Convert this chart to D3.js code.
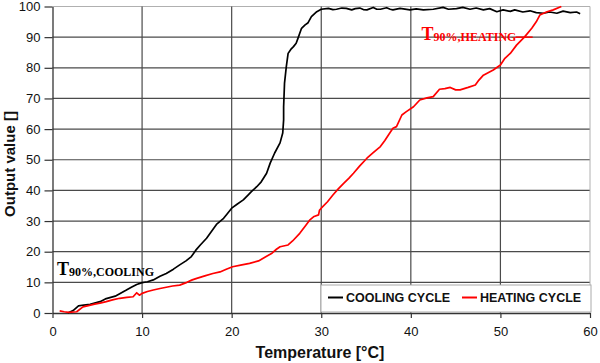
<!DOCTYPE html>
<html>
<head>
<meta charset="utf-8">
<script src="https://cdn.jsdelivr.net/npm/d3@7"></script>
<style>
  html, body { margin: 0; padding: 0; background: #fff; }
  svg { display: block; }
</style>
</head>
<body>
<svg id="chart" width="600" height="363"></svg>
<script>
// ---- data ----
const xTicks = [0, 10, 20, 30, 40, 50, 60];
const yTicks = [0, 10, 20, 30, 40, 50, 60, 70, 80, 90, 100];

const coolingT = [1.7,2.3,2.9,3.5,4.2,4.8,5.3,5.9,6.4,7,7.5,8.2,8.8,9.4,10,10.6,11.25,12,12.7,13.5,14.2,14.9,15.5,16,16.5,17.2,17.6,18.3,19.1,19.4,20,20.6,21.3,21.8,22.2,22.8,23.3,23.9,24.3,24.8,25.4,25.7,25.8,25.8,25.9,26.1,26.3,26.6,26.9,27.2,27.4,27.6,27.8,28.2,28.5,28.9,29.5,30,30.8,31.3,31.7,32.3,32.8,33.4,33.8,34.3,34.7,35.1,35.8,36.2,36.6,37.3,37.7,38,38.8,39.9,40.6,41.4,42.5,43.6,44.2,45.1,45.8,46.6,47.3,48.1,48.8,49.6,50.3,51.1,51.6,52.5,53.3,54,54.8,55.5,56.3,57,57.8,58.5,58.9];
const coolingV = [0,0.8,2.3,2.6,2.8,3.3,3.7,4.6,5,5.5,6.3,7.4,8.4,9.3,9.9,10.2,10.8,12,12.9,14.3,15.7,17,18.4,20.5,22.2,24.4,26,28.9,30.9,32,34.2,35.5,36.9,38.4,39.6,41.2,42.8,45.6,48.9,52.2,55.5,58.7,63,67.2,75,80.4,84.7,86,86.9,88,89.6,91.3,92.9,94,94.6,96.7,98.3,99.1,99.4,99,99.1,99.5,99.4,98.9,99.3,99.5,99,98.9,99.7,99.1,99.1,99.6,99.1,98.9,99.4,98.9,99.2,98.9,99.1,99.7,99.1,99.3,99.7,99.1,99.5,98.9,99.3,98.3,98.9,98.4,98.9,98.2,98.6,98,97.8,98.2,97.8,98.5,98,98.2,97.6];

const heatingT = [0.8,1.3,1.8,2.7,3.4,4,4.7,5.3,6,6.7,7.5,8.3,9,9.4,9.7,10,10.6,11.25,12,12.7,13.4,14.2,15,15.6,16.1,17,17.9,18.7,19.4,20.1,21,22,23,23.9,24.5,25,25.4,26.3,26.8,27.6,28.2,28.7,29.2,29.7,29.8,30,30.7,31.3,31.9,32.5,33.1,33.6,34.3,35.1,35.8,36.6,37.1,37.5,38,38.4,39,39.5,40.3,41,41.8,42.5,43.2,43.8,44.4,45,45.5,46.4,47.2,47.6,48.1,49.2,50,50.5,51.1,51.8,52.7,53.5,54,54.4,55.2,55.9,56.8];
const heatingV = [0.7,0.4,0.2,0.4,2,2.4,2.9,3.2,3.7,4.3,4.8,5.1,5.3,6.6,5.8,6.4,7,7.5,8,8.4,8.8,9.1,10,10.8,11.3,12.1,12.9,13.4,14.3,15.1,15.6,16.2,17,18.5,19.5,20.8,21.6,22.2,23.5,26,28.3,30.3,31.5,32,33.5,34.2,36.3,38.5,40.5,42.3,44,45.6,48,50.5,52.3,54.3,56.3,58.1,60.3,60.8,64.6,65.7,67.3,69.5,70.2,70.6,73,73.2,73.6,72.8,72.8,73.6,74.4,76,77.6,79.3,80.9,83.1,84.7,87.4,90.1,92.9,95,97.2,98.3,98.9,100];

const seriesNames = ["COOLING CYCLE", "HEATING CYCLE"];
const seriesColors = ["#000000", "#ff0000"];

// annotation anchors (data coords)
const coolLabelAt = [0.5, 12.4];
const heatLabelAt = [41.2, 89];
const heatLeaderT = [51.7, 53.6];
const heatLeaderV = 90;

// ---- layout ----
const SANS = "Arial, 'Liberation Sans', sans-serif";
const SERIF = "'Times New Roman', 'Liberation Serif', serif";
const svg = d3.select("#chart");
const x = d3.scaleLinear().domain([0, 60]).range([52.5, 590]);
const y = d3.scaleLinear().domain([0, 100]).range([313, 6.5]);

// grid
const grid = svg.append("g");
grid.selectAll("line.h").data(yTicks.filter(d => d > 0)).enter().append("line")
  .attr("x1", x(0)).attr("x2", x(60))
  .attr("y1", d => y(d)).attr("y2", d => y(d))
  .attr("stroke", d => d === 100 ? "#b0b0b0" : "#4a4a4a")
  .attr("stroke-width", d => d === 100 ? 1 : 1.2);
grid.selectAll("line.v").data(xTicks.filter(d => d > 0)).enter().append("line")
  .attr("y1", y(0)).attr("y2", y(100))
  .attr("x1", d => x(d)).attr("x2", d => x(d))
  .attr("stroke", d => d === 60 ? "#b0b0b0" : "#4a4a4a")
  .attr("stroke-width", d => d === 60 ? 1 : 1.2);

// axes
const xAxis = svg.append("g").attr("transform", `translate(0,${y(0)})`)
  .call(d3.axisBottom(x).tickValues(xTicks).tickSize(5).tickPadding(9).tickSizeOuter(0));
const yAxis = svg.append("g").attr("transform", `translate(${x(0)},0)`)
  .call(d3.axisLeft(y).tickValues(yTicks).tickSize(8).tickPadding(4).tickSizeOuter(0));
[xAxis, yAxis].forEach(a => {
  a.attr("font-family", SANS).attr("font-size", 13);
  a.select(".domain").attr("stroke", "#333").attr("stroke-width", 1.3);
  a.selectAll(".tick line").attr("stroke", "#333").attr("stroke-width", 1.2);
  a.selectAll(".tick text").attr("fill", "#111");
});

// lines
const line = d3.line().x(d => x(d[0])).y(d => y(d[1]));
const cooling = coolingT.map((t, i) => [t, coolingV[i]]);
const heating = heatingT.map((t, i) => [t, heatingV[i]]);
[cooling, heating].forEach((data, i) => {
  svg.append("path").datum(data)
    .attr("d", line).attr("fill", "none")
    .attr("stroke", seriesColors[i]).attr("stroke-width", 1.7)
    .attr("stroke-linejoin", "round");
});

// annotations
function tLabel(pos, sub, color) {
  const t = svg.append("text")
    .attr("x", x(pos[0])).attr("y", y(pos[1]))
    .attr("fill", color).attr("font-weight", "bold")
    .style("font-family", SERIF);
  t.append("tspan").attr("font-size", 18).text("T");
  t.append("tspan").attr("font-size", 12).attr("dy", 1).text(sub);
}
tLabel(coolLabelAt, "90%,COOLING", "#000");
tLabel(heatLabelAt, "90%,HEATING", "#ff0000");
svg.append("line")
  .attr("x1", x(heatLeaderT[0])).attr("x2", x(heatLeaderT[1]))
  .attr("y1", y(heatLeaderV)).attr("y2", y(heatLeaderV))
  .attr("stroke", "#ff0000").attr("stroke-width", 1.5);

// legend
const lg = svg.append("g").style("font-family", SANS);
lg.append("rect").attr("x", 321).attr("y", 285).attr("width", 270).attr("height", 27)
  .attr("fill", "#fff").attr("stroke", "#aaa").attr("stroke-width", 1);
const legendX = [328, 462];
seriesNames.forEach((name, i) => {
  lg.append("line").attr("x1", legendX[i]).attr("x2", legendX[i] + 15)
    .attr("y1", 297.5).attr("y2", 297.5)
    .attr("stroke", seriesColors[i]).attr("stroke-width", 2);
  lg.append("text").attr("x", legendX[i] + 18).attr("y", 302)
    .attr("font-size", 12.5).attr("font-weight", "bold").attr("fill", "#111")
    .text(name);
});

// axis titles
svg.append("text").attr("x", 320).attr("y", 358).attr("text-anchor", "middle")
  .style("font-family", SANS)
  .attr("font-size", 16).attr("font-weight", "bold").attr("fill", "#111")
  .text("Temperature [°C]");
svg.append("text").attr("transform", "translate(15,164) rotate(-90)")
  .attr("text-anchor", "middle").style("font-family", SANS)
  .attr("font-size", 15).attr("font-weight", "bold").attr("fill", "#111")
  .text("Output value []");
</script>
</body>
</html>
